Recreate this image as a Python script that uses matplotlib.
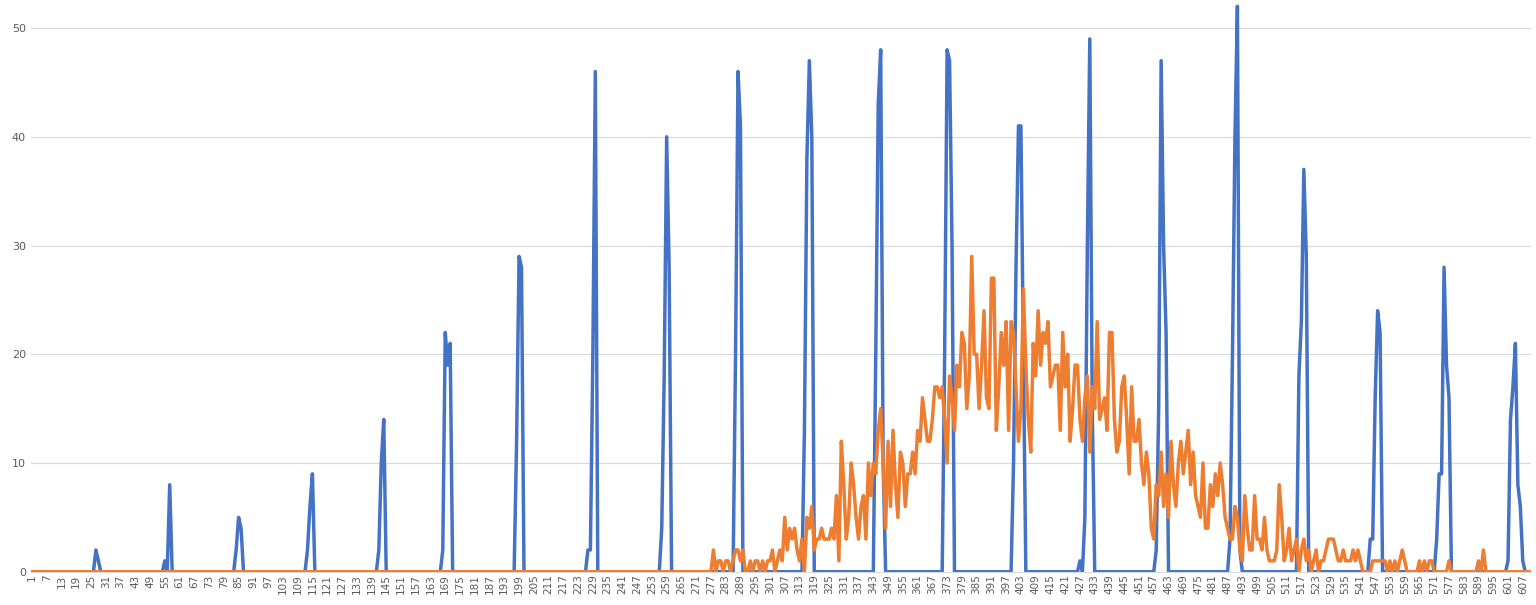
import numpy as np
import matplotlib.pyplot as plt

n_points = 610
x = np.arange(1, n_points + 1)

# blue: mostly zero with spikes (start index, values)
blue_spikes = [
    (27, [2, 1]), (55, [1, 0, 8]), (84, [2, 5, 4]), (113, [2, 6, 9]),
    (142, [2, 10, 14]), (168, [2, 22, 19, 21]), (198, [12, 29, 28]),
    (227, [2, 2, 20, 46]), (257, [4, 18, 40, 28]), (287, [20, 46, 41]),
    (315, [13, 38, 47, 40]), (344, [20, 43, 48, 10]), (372, [20, 48, 47, 30]),
    (400, [10, 28, 41, 41, 20]), (427, [1, 0, 5, 30, 49, 15]),
    (458, [2, 15, 47, 30, 22]), (488, [3, 20, 40, 52, 2]),
    (516, [18, 23, 37, 29]), (545, [3, 3, 16, 24, 22]),
    (572, [3, 9, 9, 28, 19, 16]), (601, [1, 14, 17, 21, 8, 6, 1, 0]),
]

orange_start = 277
orange_vals = [
    0,2,0,1,1,0,1,1,0,1,2,2,1,2,0,0,1,0,1,1,
    0,1,0,1,1,2,0,1,2,1,5,2,4,3,4,2,1,3,0,5,
    4,6,2,3,3,4,3,3,3,4,3,7,1,12,8,3,5,10,8,5,
    3,6,7,3,10,7,10,9,13,15,10,4,12,6,13,8,5,11,10,6,
    9,9,11,9,13,12,16,14,12,12,14,17,17,16,17,14,10,18,16,13,
    19,17,22,21,15,18,29,20,20,15,19,24,16,15,27,27,13,17,22,19,
    23,13,23,22,17,12,15,26,19,14,11,21,18,24,19,22,21,23,17,18,
    19,19,13,22,17,20,12,15,19,19,14,12,16,18,11,17,15,23,14,15,
    16,13,22,22,14,11,12,17,18,14,9,17,12,12,14,10,8,11,9,4,
    3,8,7,11,6,9,5,12,8,6,10,12,9,11,13,8,11,7,6,5,
    10,4,4,8,6,9,7,10,8,5,4,3,3,6,5,2,1,7,4,2,
    2,7,3,3,2,5,2,1,1,1,2,8,5,1,2,4,1,2,3,0,
    2,3,1,2,0,1,2,0,1,1,2,3,3,3,2,1,1,2,1,1,
    1,2,1,2,1,0,0,0,0,1,1,1,1,1,1,0,1,0,1,0,
    1,2,1,0,0,0,0,0,1,0,1,0,1,1,0,0,0,0,0,0,
    1,0,0,0,0,0,0,0,0,0,0,0,1,0,2,0,0,0,0,0,
]

blue = np.zeros(n_points)
for start, vals in blue_spikes:
    blue[start - 1:start - 1 + len(vals)] = vals
orange = np.zeros(n_points)
orange[orange_start - 1:orange_start - 1 + len(orange_vals)] = orange_vals

fig, ax = plt.subplots(figsize=(15.36, 6.05), dpi=100)
fig.subplots_adjust(left=0.02, right=0.997, top=0.995, bottom=0.055)

ax.plot(x, blue, color='#4472C4', lw=2.5)
ax.plot(x, orange, color='#ED7D31', lw=2.5)

ax.set_xlim(0.5, n_points + 0.5)
ax.set_ylim(0, 52.3)
ax.set_yticks(range(0, 51, 10))
ax.set_xticks(x[::6])
ax.set_xticklabels([str(v) for v in x[::6]], rotation=90, fontsize=7.5, color='#595959')
ax.tick_params(axis='y', labelsize=8, colors='#595959', length=0)
ax.tick_params(axis='x', length=0, pad=2)
ax.grid(axis='y', color='#d9d9d9', lw=0.8)
ax.set_axisbelow(True)
for s in ['top', 'right', 'left']:
    ax.spines[s].set_visible(False)
ax.spines['bottom'].set_color('#d9d9d9')

plt.savefig('out.png')
